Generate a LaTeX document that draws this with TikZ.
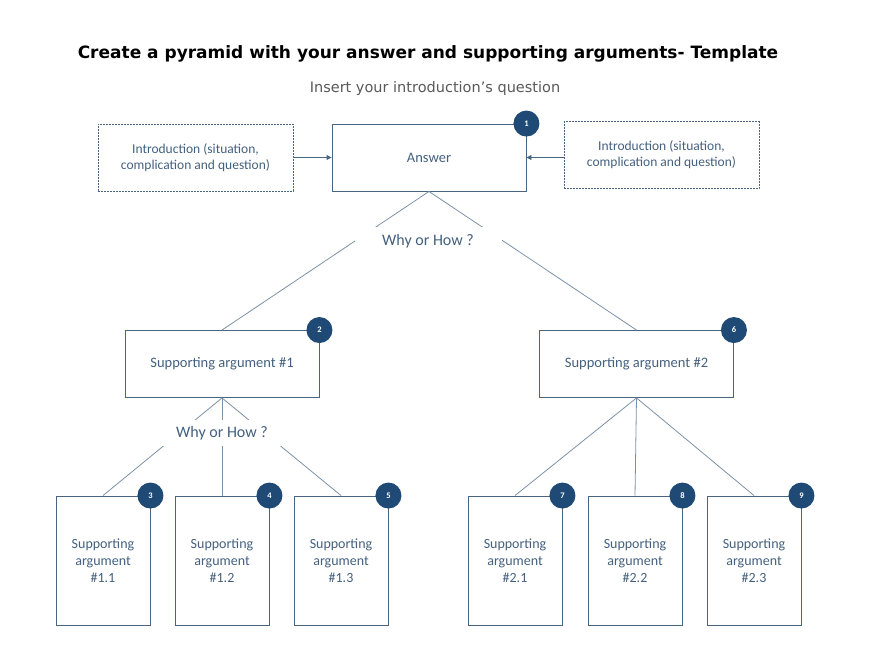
\documentclass[tikz,border=0pt]{standalone}
\usepackage{fontspec}
\setmainfont{Carlito}
\newfontfamily\headfont{DejaVu Sans}
\usetikzlibrary{arrows.meta}
\definecolor{boxline}{HTML}{4A6582}
\definecolor{boxtext}{HTML}{44607E}
\definecolor{badgeblue}{HTML}{1F4A75}
\definecolor{linkline}{HTML}{7D91A6}
\definecolor{subgray}{HTML}{595959}

\begin{document}
\begin{tikzpicture}[x=1pt, y=-1pt,
    box/.style={rectangle, draw=boxline, line width=0.9pt, text=boxtext, align=center, inner sep=0pt, font=\fontsize{14.5}{17}\selectfont},
    widebox/.style={box, minimum width=194, minimum height=67},
    tallbox/.style={box, minimum width=94, minimum height=129, font=\fontsize{14}{17}\selectfont},
    introbox/.style={box, dash pattern=on 2pt off 1pt, minimum width=195, minimum height=67, font=\fontsize{13.5}{16}\selectfont},
    badge/.style={circle, fill=badgeblue, text=white, minimum size=26, inner sep=0pt, font=\fontsize{8.5}{8.5}\selectfont\bfseries},
    why/.style={fill=white, text=boxtext, inner sep=0pt, font=\fontsize{16}{18}\selectfont},
    link/.style={draw=linkline, line width=0.8pt},
    feed/.style={draw=boxline, line width=0.9pt, -{Triangle[length=5pt, width=5pt]}}]
  \useasboundingbox (0,0) rectangle (870,653);

  % title and question
  \node[font=\headfont\bfseries\fontsize{17}{20}\selectfont] (title) at (428,54) {Create a pyramid with your answer and supporting arguments- Template};
  \node[text=subgray, font=\headfont\fontsize{14.5}{17}\selectfont] (question) at (435,88) {Insert your introduction’s question};

  % boxes
  \node[widebox] (1) at (429,157.5) {Answer};
  \node[introbox] (introl) at (195.5,157.5) {Introduction (situation,\\complication and question)};
  \node[introbox] (intror) at (661.5,155) {Introduction (situation,\\complication and question)};
  \node[widebox] (2) at (222,364) {Supporting argument \#1};
  \node[widebox] (6) at (636.5,364) {Supporting argument \#2};
  \node[tallbox] (3) at (103,560.5) {Supporting\\argument\\\#1.1};
  \node[tallbox] (4) at (222,560.5) {Supporting\\argument\\\#1.2};
  \node[tallbox] (5) at (341,560.5) {Supporting\\argument\\\#1.3};
  \node[tallbox] (7) at (515,560.5) {Supporting\\argument\\\#2.1};
  \node[tallbox] (8) at (635,560.5) {Supporting\\argument\\\#2.2};
  \node[tallbox] (9) at (754,560.5) {Supporting\\argument\\\#2.3};

  % connectors
  \draw[feed] (introl.east |- 1) -- (1.west);
  \draw[feed] (intror.west |- 1) -- (1.east);
  \foreach \source/\dest in {1/2, 1/6, 2/3, 2/4, 2/5, 6/7, 6/8, 6/9}
    \path (\source.south) edge[link] (\dest.north);

  \node[why, minimum width=147, minimum height=28] (whytop) at (428,241) {Why or How ?};
  \node[why, minimum width=124, minimum height=26] (whyleft) at (222,433) {Why or How ?};

  % numbered badges
  \foreach \n in {1,...,9}
    \node[badge] (badge\n) at (\n.north east) {\n};
\end{tikzpicture}
\end{document}
